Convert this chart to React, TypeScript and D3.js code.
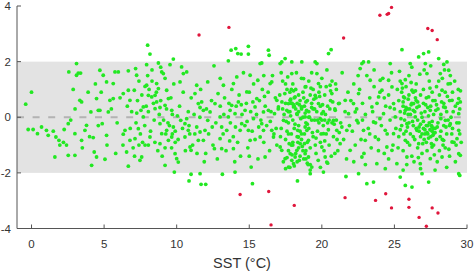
import React from "react";
import * as d3 from "d3";

const xTicks = [0, 5, 10, 15, 20, 25, 30];
const yTicks = [-4, -2, 0, 2, 4];
const bandLow = -2;
const bandHigh = 2;
const xLabel = "SST (°C)";

// green points: [SST, value]
const greenA: number[] = [
-0.4,0.47, 0,0.9, -0.23,-0.44, 0.11,-0.44, 0.41,-0.59, 0.69,-0.35, 1.03,-0.47, 1.15,-0.65, 1.68,-0.71, 1.89,-0.83, 1.95,-1.0, 1.61,-1.43, 2.25,-0.44, 2.53,-0.23, 2.41,-1.0,
2.57,1.63, 3.1,1.93, 3.1,1.51, 3.22,1.59, 3.38,1.59, 2.87,1.0, 3.33,0.61, 3.45,0.55, 2.53,-1.37, 2.99,-1.37, 2.99,-0.59, 3.45,-0.83, 3.68,-0.47, 3.79,-0.29, 4.09,0.19, 4.25,-0.73, 4.14,-1.73, 4.48,0.67, 4.6,0.25, 4.71,0.25, 4.32,-1.25, 4.48,-1.43, 4.71,1.69, 4.94,1.51, 4.87,-0.23, 5.06,-1.51, 5.17,1.27, 5.29,0.19, 5.4,0.61, 5.17,-0.65, 5.63,1.21, 5.75,1.63, 5.63,0.67, 5.98,1.63, 6.32,0.85, 6.44,-0.47, 6.32,-0.61, 6.55,-1.25, 6.78,-0.83, 6.67,-1.76, 6.67,1.67, 6.78,0.61, 6.67,0.97, 7.08,0.97, 7.17,1.75, 7.24,1.51, 7.13,-0.77, 7.36,-0.41, 7.4,-1.0, 7.47,-1.55, 7.59,-1.43, 7.54,0.25, 7.7,0.37, 7.7,0.01, 7.82,1.11, 7.93,1.15, 7.93,1.89, 8.0,2.59, 8.16,2.27, 8.05,0.79, 8.28,0.73, 8.16,-0.71, 8.05,-1.0, 7.82,-1.0, 8.51,0.79, 8.62,0.55, 8.74,1.95, 8.62,1.21, 8.74,1.03, 8.51,0.31, 8.85,-0.23, 8.97,-0.59, 8.85,-0.95, 8.97,1.63, 9.08,1.57, 9.2,0.43, 9.31,0.97, 9.43,0.67, 9.31,-0.47, 9.43,-0.83, 9.66,-0.71, 9.54,1.89, 9.77,2.09, 9.66,0.25, 9.77,-0.35, 9.89,-1.31, 9.84,-1.97, 9.2,-1.73, 10.0,-1.49, 10.11,-1.61, 10.23,1.27, 10.34,1.81, 10.46,1.57, 10.69,1.63, 10.28,-0.11, 10.57,-0.23, 10.57,-0.71, 10.8,-0.47, 10.69,-0.05, 10.92,-1.07, 10.99,-1.19, 10.85,-2.29, 10.99,-2.05, 11.26,0.85, 11.38,1.15, 11.49,0.49, 11.61,0.35, 11.72,0.55, 11.84,0.25, 11.38,-0.35, 11.61,-0.53, 11.49,-0.83, 11.84,-0.83, 11.95,-0.47, 11.61,-2.03, 11.68,-2.41, 12.0,-2.41, 12.14,1.27, 12.14,-0.11, 12.3,0.19, 12.64,0.49, 12.57,1.85, 12.6,-1.13, 12.99,0.01, 13.1,-0.35, 12.99,-0.77, 13.1,-1.13, 13.15,-2.05, 13.22,1.15, 13.56,2.03, 13.45,-0.47, 13.56,0.01, 13.68,0.25, 13.79,0.43, 13.75,2.41, 14.07,2.47, 14.21,2.29, 14.44,2.27, 13.91,1.21, 13.91,-1.13, 14.02,0.13, 14.14,1.45, 14.02,-1.97, 14.37,-0.47, 14.48,-0.23, 14.25,0.55, 14.71,0.25, 14.83,0.91, 14.94,2.55, 14.94,2.27, 15.06,1.51, 15.13,-1.79, 15.22,-2.39, 14.94,-0.47, 15.06,-0.83, 15.29,-0.05, 15.4,0.37, 15.52,0.67, 15.59,1.33, 15.75,1.93, 15.86,1.95, 15.86,-0.23, 15.75,-0.71, 15.98,-0.47, 16.09,-1.43, 15.98,0.19, 16.32,2.41, 16.37,2.23, 16.32,0.25, 16.44,1.21, 16.55,1.27, 16.55,-0.47, 16.67,-0.71, 16.74,0.13, 16.9,0.61, 17.01,0.37, 17.13,1.93, 17.24,1.99, 17.47,2.11, 17.13,-1.07, 17.24,-1.19, 17.47,-1.49, 17.36,-0.11, 17.59,0.25, 17.7,0.49, 17.82,0.61, 17.93,1.57, 17.93,1.99, 18.05,0.37, 18.16,0.73, 18.28,0.13, 18.34,-0.47, 18.39,-0.71, 18.51,-0.95, 18.28,-1.19, 18.16,-1.43, 18.05,-1.67, 17.93,-1.55, 17.82,-1.31, 17.7,-1.79, 18.32,-2.29, 18.62,1.99, 18.74,1.39, 18.85,1.09, 18.62,0.37, 18.85,0.01, 18.97,-0.47, 19.08,-0.83, 18.85,-1.31, 19.08,-1.43, 19.2,-2.03, 19.31,-1.79, 19.54,1.99, 19.66,1.93, 19.66,1.57, 19.77,1.21, 19.54,0.79, 19.77,0.49, 19.89,-0.05, 20.0,0.13, 20.11,-0.59, 20.0,-1.07, 20.23,-1.43, 20.34,-1.61, 20.11,-1.97, 20.46,2.29, 20.64,2.43, 20.57,1.15, 20.69,0.85, 20.8,-0.11, 20.92,0.25, 21.03,-0.47, 21.15,0.49, 21.26,-0.95, 21.38,-0.35, 21.61,0.61, 21.72,-0.47, 21.66,-2.13, 21.84,0.13, 21.95,-1.19, 22.18,0.49, 22.3,0.19, 22.41,-0.11, 22.53,0.85, 22.64,1.75, 22.76,1.93, 22.87,1.99, 22.53,-2.03, 22.76,-1.43, 22.87,-0.47, 22.99,-0.83, 23.1,-2.39, 23.22,1.99, 23.33,1.33, 23.45,0.37, 23.56,-0.17, 23.68,-0.71, 23.56,-2.33, 23.79,-1.67, 23.91,0.73, 24.02,1.33, 24.14,0.97, 24.25,0.13, 24.37,-0.47, 24.48,-1.07, 24.37,-1.85, 24.6,1.33, 24.71,1.93, 24.83,1.09, 24.94,0.49, 25.06,0.01, 24.94,-0.59, 24.83,-1.19, 25.17,-1.67, 25.4,-2.15, 25.52,2.43, 25.52,1.21, 25.63,0.73, 25.75,0.25, 25.86,-0.23, 25.75,-0.83, 25.86,-1.43, 25.75,-2.45, 26.21,-2.51, 26.09,1.93, 26.21,0.97, 26.32,0.49, 26.44,0.01, 26.55,-0.47, 26.67,-0.95, 26.78,-1.67, 26.9,-2.03, 26.67,2.17, 27.01,2.29, 27.36,2.35, 27.13,1.93, 27.24,1.57, 27.36,0.73, 27.47,0.25, 27.59,-0.35, 27.7,-0.59, 27.59,-1.07, 27.47,-1.49, 27.36,-2.33, 28.05,2.11, 28.16,1.57, 28.28,0.97, 28.39,0.37, 28.51,-0.11, 28.39,-0.83, 28.28,-1.43, 28.62,1.99, 28.74,1.69, 28.85,1.21, 28.97,0.61, 28.85,-0.23, 28.97,-0.89, 29.43,0.67, 29.54,0.55, 29.43,-0.47, 29.43,-1.31, 29.54,-1.37, 29.43,-2.03, 29.5,-2.09, 29.43,0.13, 29.31,-0.77
];

const greenB: number[] = [
1.5,-0.5, 2.2,-0.9, 2.7,-0.1, 3.0,0.3, 3.5,-1.1, 4.0,-0.7, 4.4,1.2, 4.8,0.9, 5.2,-1.0, 5.5,0.3, 5.9,-0.2, 6.1,0.7, 6.3,-1.0, 6.6,0.4, 6.8,-0.4, 5.8,-1.3, 4.6,-0.3, 3.9,0.9,
7.3,0.6, 7.6,0.8, 7.9,0.4, 8.1,1.0, 8.3,1.3, 8.4,0.5, 8.6,0.9, 8.8,0.1, 8.9,0.6, 9.1,-0.1, 9.3,0.3, 9.5,-0.3, 9.7,-0.6, 9.9,-0.9, 7.2,-0.2, 7.5,-0.6, 7.8,-0.3, 8.2,-0.5, 8.5,-0.9, 8.7,-1.2, 9.0,-1.4, 9.2,-1.1, 9.4,-0.2, 9.6,0.7, 9.8,1.2, 8.0,1.5, 8.3,1.7, 7.4,1.3, 7.0,-1.1, 6.9,0.2, 7.1,-1.4, 8.9,1.8, 9.2,1.4, 9.7,0.1, 9.9,-0.5, 10.1,-0.8, 10.2,0.4, 10.4,-0.4, 10.6,-1.2, 10.8,0.2, 10.9,-0.6, 11.1,-1.0, 11.2,0.1, 11.4,-1.3, 11.6,0.0, 11.9,-1.6, 12.2,-0.6, 12.4,0.6, 12.5,-1.0, 12.7,-0.2, 12.8,-1.5, 13.0,0.4, 13.2,-0.6, 13.3,0.7, 13.4,-1.2, 13.6,0.5, 13.7,-0.2, 13.8,1.0, 13.9,-0.7, 14.1,0.4, 14.2,-0.9, 14.3,0.8, 14.4,-1.4, 14.5,0.1, 14.6,1.6, 14.7,-0.3, 14.8,0.5, 14.9,-1.1, 15.0,0.9, 15.1,0.2, 15.2,-0.5, 15.3,1.2, 15.4,-0.8, 15.5,0.1, 15.6,-1.5, 15.7,0.6, 15.8,-0.1, 15.9,1.0, 16.0,-0.9, 16.1,0.4, 16.2,-0.3, 16.3,0.9, 16.4,-1.2, 16.5,0.2, 16.6,1.5, 16.7,-0.6, 16.8,0.7, 16.9,-1.0, 17.0,0.3,
7.25,0.15, 7.65,-0.9, 8.05,0.2, 8.45,-0.1, 8.85,0.35, 9.25,-0.6, 9.65,-1.1, 10.05,0.05, 10.45,0.9, 10.85,-0.3, 11.25,-0.6, 11.65,1.0, 12.05,0.3, 12.45,-0.35, 12.85,0.85, 13.25,0.1, 13.65,-0.85, 14.05,-0.35, 14.45,0.45, 14.85,-0.15, 15.25,0.55, 15.65,-0.35, 16.05,0.75, 16.45,-0.15, 16.85,-0.4, 11.0,0.7, 12.0,-1.3, 13.0,1.4, 14.0,-1.6, 15.0,-1.4, 16.0,1.5
];

const greenC: number[] = [
17.1,0.8, 17.2,-0.4, 17.3,1.3, 17.4,0.1, 17.5,-0.8, 17.5,0.5, 17.6,1.0, 17.7,-0.2, 17.7,-1.2, 17.8,0.9, 17.8,0.2, 17.9,-0.6, 17.9,0.5, 18.0,1.2, 18.0,-0.1, 18.0,-1.0, 18.1,0.4, 18.1,0.7, 18.1,-0.4, 18.2,0.3, 18.2,-1.3, 18.2,1.0, 18.3,0.5, 18.3,-0.7, 18.3,-1.6, 18.4,0.2, 18.4,0.8, 18.4,-0.3, 18.4,-1.1, 18.5,0.6, 18.5,-0.5, 18.5,-1.4, 18.6,0.3, 18.6,1.4, 18.6,-0.8, 18.7,0.0, 18.7,-1.2, 18.7,0.9, 18.8,0.4, 18.8,-0.6, 18.9,1.1, 18.9,-0.2, 18.9,-1.5, 19.0,0.6, 19.0,-0.9, 19.1,0.2, 19.1,1.3, 19.1,-0.4, 19.2,-1.1, 19.2,0.8, 19.3,-0.1, 19.3,0.5, 19.4,-0.7, 19.4,1.0, 19.5,-0.1, 19.5,0.3, 19.6,-1.3, 19.6,0.7, 19.7,-0.1, 19.7,-0.5, 19.8,0.9, 19.8,-0.2, 19.9,0.4, 19.9,-0.9, 20.0,-0.1, 20.0,1.4, 20.1,0.2, 20.1,-0.3, 20.2,0.8, 20.2,-0.1, 20.3,-0.6, 20.3,1.1, 20.4,-0.2, 20.4,0.4, 20.5,-1.0, 20.5,-0.1, 20.6,0.6, 20.7,-0.2, 20.7,1.3, 20.8,-0.7, 20.9,0.3, 21.0,-0.1, 21.0,1.0, 21.1,-1.2, 21.2,0.5, 21.3,-0.2, 21.4,1.6, 21.5,-0.8, 21.6,0.2, 21.7,-1.5, 21.8,0.9, 21.9,-0.3,
17.7,0.2, 17.95,0.5, 18.3,0.1, 18.6,0.35, 18.9,0.55, 19.1,0.0, 19.3,0.35, 17.85,0.65, 18.05,0.45, 18.85,0.15, 18.0,-0.9, 18.9,-1.2, 17.6,-1.45, 19.2,-1.7, 18.8,-0.95, 17.9,-1.0, 18.45,-1.55, 18.6,-0.6, 19.0,-1.65, 17.5,-1.85, 18.1,-1.75,
17.15,-0.7, 17.25,0.55, 17.35,-1.6, 17.45,0.85, 17.55,-0.15, 17.65,1.45, 17.75,-0.95, 17.85,0.05, 17.95,-1.35, 18.05,0.95, 18.15,-0.25, 18.25,1.6, 18.35,-0.9, 18.45,0.45, 18.55,-0.05, 18.65,-1.05, 18.75,0.7, 18.85,-0.35, 18.95,0.25, 19.05,-1.7, 19.15,0.0, 19.25,1.05, 19.35,-0.55, 19.45,0.65, 19.55,-1.0, 19.65,0.2, 19.75,-1.55, 19.85,0.75, 19.95,-0.6, 20.05,0.45, 20.15,-1.2, 20.25,0.1, 20.35,1.7, 20.45,-0.45, 20.55,0.3, 20.65,-1.4, 20.75,0.55, 20.85,-0.25, 20.95,1.2, 21.05,-0.8, 17.3,0.3, 17.6,-0.5, 17.9,1.0, 18.75,-1.5, 19.0,-0.25, 19.3,1.6, 19.6,-0.75, 19.9,1.1, 20.2,-0.85, 20.6,0.95, 17.2,1.6, 17.5,1.2, 17.8,-1.8, 19.2,-1.9, 19.9,-1.8, 20.4,-1.65, 17.7,-0.6, 19.4,0.3, 20.9,-1.3, 21.2,-0.55
];

const greenD: number[] = [
22.0,0.6, 22.1,-0.5, 22.2,1.2, 22.3,-1.0, 22.4,0.3, 22.5,-0.2, 22.6,1.0, 22.7,-0.8, 22.8,0.5, 22.9,-1.3, 23.0,0.1, 23.1,1.5, 23.2,-0.4, 23.3,0.7, 23.4,-1.1, 23.5,0.2, 23.6,1.1, 23.7,-0.2, 23.8,0.5, 23.9,-0.8, 24.0,0.9, 24.1,-0.3, 24.2,1.4, 24.3,-1.3, 24.4,0.4, 24.5,-0.6, 24.6,0.8, 24.7,-0.1, 24.8,1.6, 24.9,-1.0, 25.0,0.3, 25.1,-0.4, 25.2,1.0,
22.2,-1.6, 23.0,-1.7, 23.9,-1.2, 24.6,-1.5, 22.5,1.5, 23.6,1.7, 24.3,0.7, 22.8,-0.1, 23.3,-0.6, 24.0,-0.05, 24.7,0.35,
25.3,0.6, 25.3,-0.7, 25.4,0.2, 25.4,1.3, 25.5,-0.3, 25.5,0.9, 25.6,-1.2, 25.6,0.4, 25.7,-0.1, 25.7,0.7, 25.8,1.1, 25.8,-0.5, 25.9,0.3, 25.9,-0.9, 26.0,0.8, 26.0,-0.2, 26.0,1.5, 26.1,0.1, 26.1,-0.6, 26.2,0.5, 26.2,-1.4, 26.3,0.9, 26.3,-0.3, 26.4,0.2, 26.4,-0.8, 26.5,1.2, 26.5,-0.4, 26.5,0.6, 26.6,-0.1, 26.6,-1.1, 26.7,0.4, 26.7,-0.5, 26.8,0.8, 26.8,-0.7, 26.9,0.0, 26.9,-1.3, 27.0,0.5, 27.0,-0.4, 27.0,1.0, 27.1,-0.6, 27.1,0.2, 27.2,-0.9, 27.2,0.7, 27.3,-0.3, 27.3,-0.6, 27.4,1.3, 27.4,-0.2, 27.5,0.4, 27.5,-0.7, 27.6,-0.5, 27.6,0.9, 27.7,-1.0, 27.7,0.1, 27.8,-0.4, 27.8,0.6, 27.9,-0.8, 27.9,1.1, 28.0,-0.2, 28.0,0.3, 28.1,-1.2, 28.1,0.8, 28.2,-0.5, 28.2,0.1, 28.3,1.4, 28.3,-0.8, 28.4,0.5, 28.4,-0.3, 28.5,-1.1, 28.5,0.9, 28.6,0.2, 28.6,-0.6, 28.7,1.2, 28.7,-0.1, 28.8,0.6, 28.8,-1.4, 28.9,0.0, 29.0,-0.4, 29.0,0.9, 29.1,-0.9, 29.2,0.4, 29.3,-0.2, 29.4,1.0, 29.5,0.3, 29.5,-0.6,
26.7,-0.35, 26.9,-0.6, 27.1,-0.45, 27.2,-0.3, 27.35,-0.75, 27.45,-0.45, 27.55,-0.3, 27.65,-0.65, 27.8,-0.55, 27.95,-0.35, 26.8,-0.25, 27.05,-0.8, 27.25,-0.55, 27.7,-0.4, 25.6,0.55, 25.8,0.35, 25.95,0.65, 26.15,0.45, 26.3,0.25, 26.45,0.7, 25.7,0.15, 26.05,0.3,
25.25,-1.1, 25.35,1.65, 25.45,-0.05, 25.55,1.05, 25.65,-0.6, 25.75,1.35, 25.85,-1.7, 25.95,0.1, 26.05,-1.0, 26.15,1.25, 26.25,-0.15, 26.35,-1.6, 26.45,0.95, 26.55,0.35, 26.65,-1.45, 26.75,1.55, 26.85,0.15, 26.95,-0.95, 27.05,1.7, 27.15,0.45, 27.25,-1.2, 27.35,0.05, 27.45,1.05, 27.55,-0.95, 27.65,0.6, 27.75,-1.35, 27.85,0.25, 27.95,-1.6, 28.05,1.3, 28.15,-0.7, 28.25,0.55, 28.35,-1.0, 28.45,1.7, 28.55,-0.35, 28.65,0.75, 28.75,-1.15, 28.85,1.5, 28.95,-0.6, 29.05,0.2, 29.15,1.3, 29.25,-1.0, 29.35,0.5, 29.45,-0.2, 29.55,0.95, 29.6,-0.9, 25.4,-0.45, 25.9,-0.35, 26.3,-0.7, 26.6,0.55, 27.0,-0.15, 27.3,0.35, 27.6,-0.15, 27.9,0.45, 28.2,-0.05, 28.5,0.35, 28.8,-0.3, 26.2,1.8, 27.5,1.85, 28.4,1.9, 25.6,-1.9, 26.8,-1.85, 27.8,-1.9, 28.6,-1.8, 29.2,-1.6
];

// red outliers
const redPts: number[] = [
11.54,2.96, 13.6,3.23, 21.5,2.85, 24.0,3.67, 24.5,3.7, 24.6,3.73, 24.8,3.95, 27.3,3.19, 27.6,3.12, 27.95,2.79,
14.37,-2.78, 16.34,-2.67, 18.1,-3.17, 16.5,-3.87, 21.6,-2.89, 23.7,-2.99, 24.4,-2.75, 24.8,-3.26, 26.0,-2.95, 26.0,-3.24, 27.6,-3.26, 28.0,-3.44, 26.7,-3.6, 27.2,-3.92
];

function pairs(a: number[]): [number, number][] {
  const out: [number, number][] = [];
  for (let i = 0; i + 1 < a.length; i += 2) out.push([a[i], a[i + 1]]);
  return out;
}

const W = 474;
const H = 273;
const x = d3.scaleLinear().domain([-1, 30]).range([17, 467]);
const y = d3.scaleLinear().domain([-4, 4]).range([228.5, 6]);

export default function App() {
  const green = [...pairs(greenA), ...pairs(greenB), ...pairs(greenC), ...pairs(greenD)];
  const red = pairs(redPts);
  const font = "'Liberation Sans', Arial, Helvetica, sans-serif";
  return (
    <svg
      width={W}
      height={H}
      style={{ position: "absolute", left: 0, top: 0, background: "#fff" }}
      fontFamily={font}
    >
      <rect
        x={x(-1)}
        y={y(bandHigh)}
        width={x(30) - x(-1)}
        height={y(bandLow) - y(bandHigh)}
        fill="#e3e3e3"
      />
      <line
        x1={x(-1)}
        x2={x(30)}
        y1={y(0)}
        y2={y(0)}
        stroke="#b3b3b3"
        strokeWidth={2}
        strokeDasharray="7 8.6"
      />
      {green.map(([a, b], i) => (
        <circle key={"g" + i} cx={x(a)} cy={y(b)} r={1.9} fill="#22e822" />
      ))}
      {red.map(([a, b], i) => (
        <circle key={"r" + i} cx={x(a)} cy={y(b)} r={1.7} fill="#e0163c" />
      ))}
      <line x1={x(-1)} x2={x(-1)} y1={y(4)} y2={y(-4)} stroke="#555" strokeWidth={1} />
      <line x1={x(-1)} x2={x(30)} y1={y(-4)} y2={y(-4)} stroke="#555" strokeWidth={1} />
      {yTicks.map((t) => (
        <g key={"yt" + t}>
          <line x1={x(-1)} x2={x(-1) + 4} y1={y(t)} y2={y(t)} stroke="#555" />
          <text x={11} y={y(t) + 4} textAnchor="end" fontSize={11.5} fill="#333">
            {t}
          </text>
        </g>
      ))}
      {xTicks.map((t) => (
        <g key={"xt" + t}>
          <line x1={x(t)} x2={x(t)} y1={y(-4)} y2={y(-4) - 4} stroke="#555" />
          <text x={x(t)} y={248} textAnchor="middle" fontSize={11.5} fill="#333">
            {t}
          </text>
        </g>
      ))}
      <text x={(x(-1) + x(30)) / 2} y={268} textAnchor="middle" fontSize={14.5} fill="#333">
        {xLabel}
      </text>
    </svg>
  );
}
